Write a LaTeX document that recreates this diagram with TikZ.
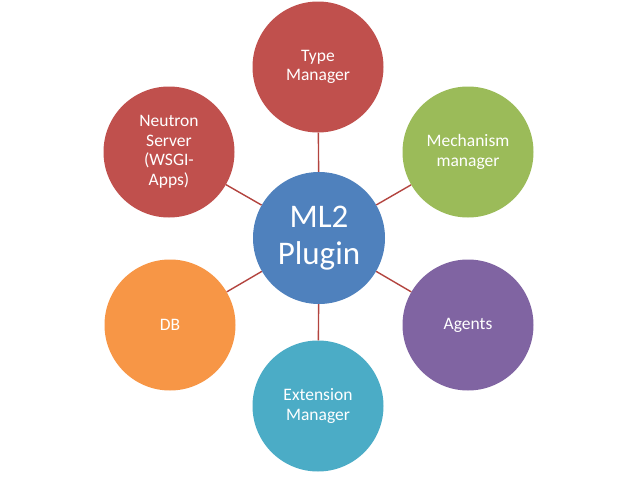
\documentclass[tikz,border=0pt]{standalone}
\usepackage{fontspec}
\setmainfont{Carlito}
\definecolor{cred}{HTML}{C0504D}
\definecolor{cgreen}{HTML}{9BBB59}
\definecolor{cblue}{HTML}{4F81BD}
\definecolor{cpurple}{HTML}{8064A2}
\definecolor{corange}{HTML}{F79646}
\definecolor{caqua}{HTML}{4BACC6}
\definecolor{clink}{HTML}{B3443F}
\begin{document}
\begin{tikzpicture}[x=1pt,y=-1pt,
  bubble/.style={circle,minimum size=131pt,inner sep=0pt,text=white,align=center,
     font=\fontsize{17.5}{19.5}\selectfont},
  hub/.style={circle,minimum size=132pt,inner sep=0pt,text=white,align=center,fill=cblue,
     font=\fontsize{33}{37}\selectfont},
  link/.style={draw=clink,line width=1.4pt}]
\useasboundingbox (0,0) rectangle (638,479);
\fill[white] (0,0) rectangle (638,479);
\node[hub] (c) at (319,238) {ML2\\Plugin};
\node[bubble,fill=cred] (t) at (318,67) {Type\\Manager};
\node[bubble,fill=cgreen] (m) at (468,152) {Mechanism\\manager};
\node[bubble,fill=cpurple] (a) at (468,325) {Agents};
\node[bubble,fill=caqua] (e) at (318,406) {Extension\\Manager};
\node[bubble,fill=corange] (d) at (170,325) {DB};
\node[bubble,fill=cred] (n) at (169,152) {Neutron\\Server\\(WSGI-\\Apps)};
\foreach \o in {t,m,a,e,d,n} \draw[link] (c) -- (\o);
\end{tikzpicture}
\end{document}
